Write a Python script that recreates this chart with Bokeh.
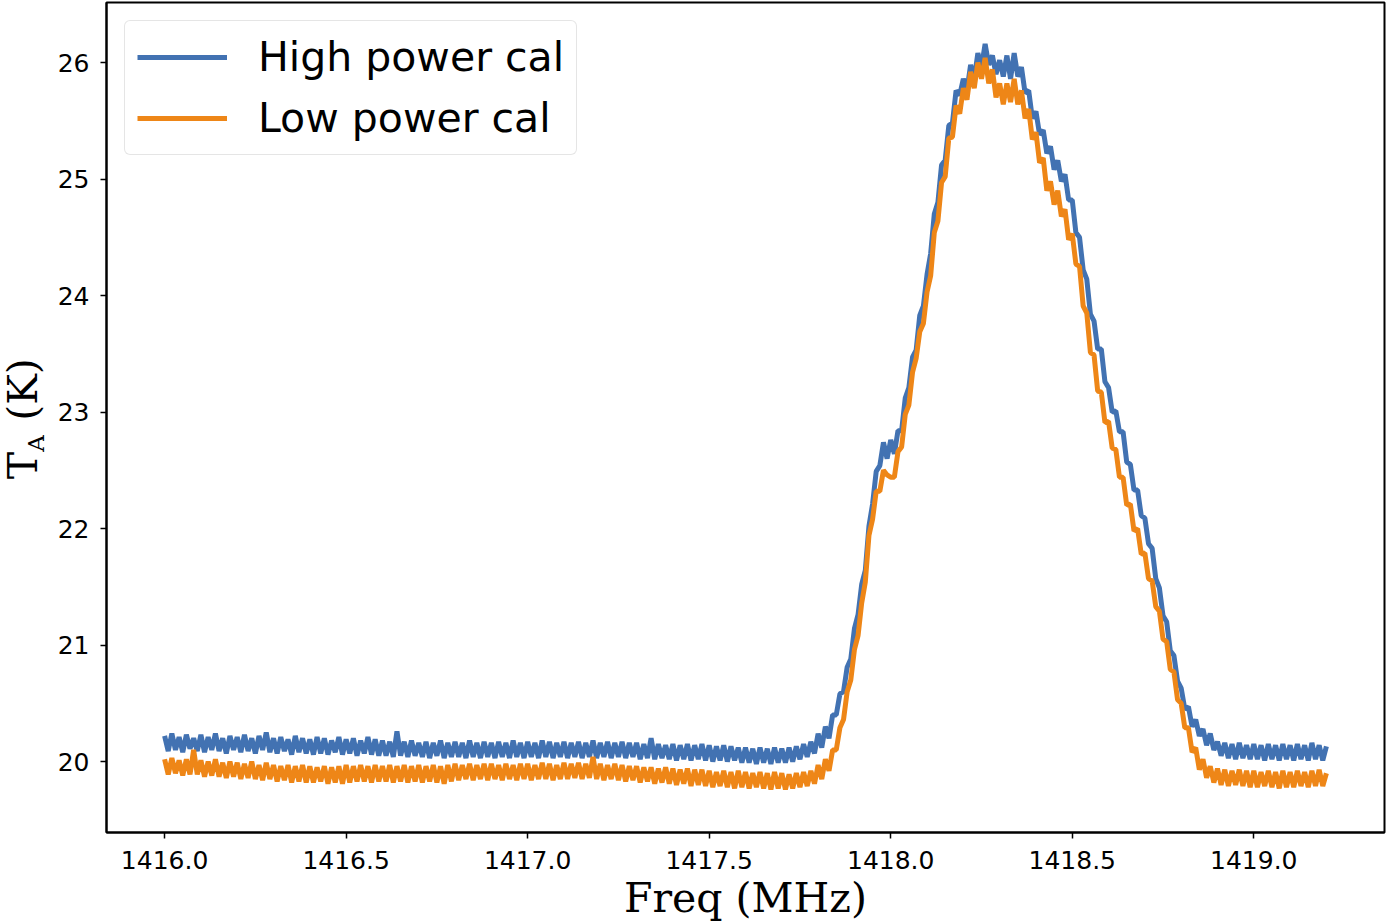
import numpy as np
from bokeh.plotting import figure
from bokeh.layouts import row
from bokeh.models import (FixedTicker, PrintfTickFormatter, Legend,
                          LegendItem, Range1d)
from bokeh.core.properties import value
from bokeh.embed import file_html
from bokeh.resources import INLINE

# ---------------- data ----------------
freq_start = 1416.0   # MHz, first channel
freq_step = 0.01      # MHz, channel spacing

high_power_cal = [
    20.22, 20.09, 20.24, 20.10, 20.21, 20.08, 20.23, 20.11, 20.20, 20.09,
    20.23, 20.08, 20.21, 20.10, 20.24, 20.09, 20.20, 20.07, 20.22, 20.10,
    20.21, 20.08, 20.23, 20.09, 20.20, 20.07, 20.22, 20.10, 20.25, 20.08,
    20.20, 20.07, 20.21, 20.09, 20.19, 20.06, 20.22, 20.08, 20.20, 20.07,
    20.19, 20.06, 20.21, 20.07, 20.20, 20.06, 20.18, 20.08, 20.21, 20.06,
    20.19, 20.07, 20.20, 20.05, 20.18, 20.07, 20.21, 20.06, 20.19, 20.05,
    20.18, 20.05, 20.17, 20.04, 20.26, 20.05, 20.17, 20.04, 20.18, 20.05,
    20.16, 20.04, 20.17, 20.03, 20.16, 20.05, 20.18, 20.03, 20.16, 20.04,
    20.17, 20.04, 20.16, 20.03, 20.18, 20.04, 20.16, 20.03, 20.17, 20.04,
    20.16, 20.03, 20.17, 20.04, 20.16, 20.03, 20.18, 20.04, 20.16, 20.03,
    20.17, 20.04, 20.16, 20.03, 20.18, 20.04, 20.17, 20.03, 20.16, 20.04,
    20.17, 20.03, 20.16, 20.04, 20.17, 20.03, 20.16, 20.04, 20.18, 20.03,
    20.16, 20.04, 20.17, 20.03, 20.16, 20.04, 20.17, 20.03, 20.16, 20.04,
    20.16, 20.02, 20.15, 20.03, 20.20, 20.02, 20.15, 20.03, 20.14, 20.02,
    20.15, 20.01, 20.14, 20.02, 20.15, 20.01, 20.14, 20.02, 20.15, 20.01,
    20.14, 20.00, 20.13, 20.01, 20.14, 20.00, 20.13, 20.01, 20.12, 19.99,
    20.12, 19.99, 20.11, 19.98, 20.12, 19.99, 20.11, 19.98, 20.12, 19.99,
    20.11, 19.99, 20.12, 20.00, 20.13, 20.02, 20.15, 20.04, 20.17, 20.07,
    20.24, 20.12, 20.30, 20.20, 20.40, 20.40, 20.58, 20.60, 20.81, 20.88,
    21.14, 21.26, 21.52, 21.64, 22.02, 22.21, 22.49, 22.54, 22.74, 22.60,
    22.76, 22.64, 22.84, 22.84, 23.12, 23.21, 23.47, 23.53, 23.83, 23.91,
    24.18, 24.36, 24.70, 24.80, 25.12, 25.16, 25.46, 25.48, 25.76, 25.72,
    25.86, 25.76, 25.98, 25.86, 26.08, 25.96, 26.16, 25.98, 26.06, 25.90,
    26.02, 25.88, 26.06, 25.86, 26.08, 25.88, 25.96, 25.74, 25.76, 25.52,
    25.58, 25.38, 25.42, 25.22, 25.28, 25.08, 25.16, 24.98, 25.04, 24.82,
    24.82, 24.54, 24.50, 24.22, 24.14, 23.84, 23.78, 23.54, 23.54, 23.26,
    23.21, 23.00, 23.01, 22.83, 22.83, 22.57, 22.55, 22.33, 22.33, 22.11,
    22.09, 21.87, 21.83, 21.57, 21.49, 21.25, 21.20, 20.95, 20.91, 20.69,
    20.63, 20.45, 20.47, 20.30, 20.36, 20.22, 20.28, 20.14, 20.24, 20.10,
    20.17, 20.05, 20.16, 20.03, 20.15, 20.02, 20.16, 20.03, 20.14, 20.02,
    20.15, 20.02, 20.14, 20.01, 20.15, 20.02, 20.14, 20.01, 20.15, 20.02,
    20.14, 20.01, 20.15, 20.02, 20.14, 20.01, 20.16, 20.02, 20.14, 20.01,
    20.13,
]

low_power_cal = [
    20.02, 19.89, 20.03, 19.90, 20.01, 19.88, 20.02, 19.89, 20.10, 19.89,
    20.01, 19.87, 20.00, 19.88, 20.02, 19.87, 19.99, 19.86, 20.00, 19.87,
    19.99, 19.85, 19.98, 19.86, 20.00, 19.85, 19.97, 19.84, 19.99, 19.85,
    19.97, 19.83, 19.96, 19.84, 19.97, 19.82, 19.96, 19.83, 19.97, 19.82,
    19.96, 19.82, 19.95, 19.83, 19.96, 19.81, 19.95, 19.82, 19.96, 19.81,
    19.97, 19.82, 19.96, 19.83, 19.97, 19.83, 19.96, 19.82, 19.97, 19.83,
    19.96, 19.83, 19.97, 19.82, 19.96, 19.83, 19.97, 19.82, 19.96, 19.83,
    19.97, 19.82, 19.96, 19.83, 19.97, 19.82, 19.96, 19.81, 19.97, 19.83,
    19.98, 19.84, 19.97, 19.85, 19.98, 19.84, 19.97, 19.85, 19.98, 19.84,
    19.98, 19.85, 19.97, 19.84, 19.98, 19.85, 19.97, 19.84, 19.98, 19.85,
    19.98, 19.84, 19.97, 19.85, 19.99, 19.85, 19.98, 19.84, 19.97, 19.85,
    19.99, 19.85, 19.98, 19.86, 19.99, 19.85, 19.98, 19.86, 20.04, 19.85,
    19.98, 19.84, 19.97, 19.85, 19.98, 19.84, 19.97, 19.83, 19.96, 19.84,
    19.96, 19.82, 19.95, 19.83, 19.95, 19.81, 19.94, 19.82, 19.95, 19.81,
    19.94, 19.80, 19.93, 19.81, 19.94, 19.79, 19.93, 19.80, 19.93, 19.79,
    19.92, 19.78, 19.91, 19.79, 19.92, 19.78, 19.91, 19.77, 19.92, 19.78,
    19.91, 19.77, 19.90, 19.78, 19.91, 19.77, 19.90, 19.76, 19.91, 19.77,
    19.90, 19.76, 19.89, 19.77, 19.90, 19.78, 19.91, 19.79, 19.92, 19.81,
    19.97, 19.85, 20.02, 19.92, 20.10, 20.10, 20.29, 20.36, 20.60, 20.70,
    20.96, 21.08, 21.36, 21.54, 21.94, 22.08, 22.32, 22.32, 22.50, 22.46,
    22.44, 22.44, 22.66, 22.70, 22.98, 23.06, 23.34, 23.46, 23.69, 23.76,
    24.03, 24.17, 24.54, 24.64, 24.97, 25.02, 25.35, 25.36, 25.63, 25.56,
    25.78, 25.68, 25.92, 25.78, 26.00, 25.86, 26.04, 25.82, 25.94, 25.70,
    25.82, 25.64, 25.82, 25.66, 25.86, 25.64, 25.76, 25.52, 25.60, 25.34,
    25.40, 25.14, 25.18, 24.90, 24.98, 24.78, 24.90, 24.68, 24.74, 24.48,
    24.53, 24.27, 24.25, 23.91, 23.85, 23.51, 23.49, 23.18, 23.17, 22.91,
    22.92, 22.69, 22.68, 22.44, 22.44, 22.20, 22.21, 21.98, 22.00, 21.78,
    21.79, 21.57, 21.55, 21.33, 21.29, 21.05, 21.03, 20.79, 20.77, 20.53,
    20.50, 20.29, 20.29, 20.08, 20.12, 19.93, 20.02, 19.86, 19.96, 19.82,
    19.94, 19.80, 19.93, 19.79, 19.92, 19.80, 19.93, 19.79, 19.92, 19.78,
    19.92, 19.78, 19.91, 19.79, 19.92, 19.78, 19.91, 19.77, 19.92, 19.78,
    19.91, 19.78, 19.92, 19.79, 19.91, 19.78, 19.92, 19.79, 19.93, 19.79,
    19.90,
]

freq = np.round(freq_start + freq_step * np.arange(len(high_power_cal)), 2)

series_labels = ["High power cal", "Low power cal"]
x_ticks = [1416.0, 1416.5, 1417.0, 1417.5, 1418.0, 1418.5, 1419.0]
y_ticks = [20, 21, 22, 23, 24, 25, 26]
x_label = "Freq (MHz)"
y_label_main, y_label_sub, y_label_unit = "T", "A", "(K)"

# ---------------- styling ----------------
BLUE = "#4272b2"
ORANGE = "#ee8617"
X0, X1 = 1415.84, 1419.36
Y0, Y1 = 19.391, 26.515
TOTAL_H = 924
LEFT_W = 50

# main plot
p = figure(width=1388 - LEFT_W, height=TOTAL_H, output_backend="svg",
           toolbar_location=None,
           x_range=Range1d(X0, X1), y_range=Range1d(Y0, Y1),
           min_border_left=56, min_border_right=4, min_border_top=2,
           min_border_bottom=92, background_fill_color="white",
           border_fill_color="white")

p.xgrid.visible = False
p.ygrid.visible = False
p.outline_line_color = "black"
p.outline_line_width = 2
p.outline_line_alpha = 1.0

r_hi = p.line(freq, high_power_cal, line_color=BLUE, line_width=5)
r_lo = p.line(freq, low_power_cal, line_color=ORANGE, line_width=5)

for ax in (p.xaxis[0], p.yaxis[0]):
    ax.axis_line_color = "black"
    ax.axis_line_width = 2
    ax.major_tick_line_color = "black"
    ax.major_tick_line_width = 1.5
    ax.major_tick_in = 0
    ax.major_tick_out = 6
    ax.minor_tick_line_color = None
    ax.major_label_text_font = "DejaVu Sans"
    ax.major_label_text_font_size = "25px"
    ax.major_label_text_color = "black"

p.xaxis[0].major_label_standoff = 12
p.yaxis[0].major_label_standoff = 11
p.xaxis[0].ticker = FixedTicker(ticks=x_ticks)
p.xaxis[0].formatter = PrintfTickFormatter(format="%.1f")
p.yaxis[0].ticker = FixedTicker(ticks=y_ticks)
p.xaxis[0].axis_label = x_label
p.xaxis[0].axis_label_text_font = "DejaVu Serif"
p.xaxis[0].axis_label_text_font_size = "41px"
p.xaxis[0].axis_label_text_font_style = "normal"
p.xaxis[0].axis_label_text_color = "black"
p.xaxis[0].axis_label_standoff = 2

legend = Legend(items=[LegendItem(label=series_labels[0], renderers=[r_hi]),
                       LegendItem(label=series_labels[1], renderers=[r_lo])],
                location="top_left", margin=18, padding=12, spacing=13,
                glyph_width=90, glyph_height=40, label_height=40,
                label_standoff=31, label_text_font="DejaVu Sans",
                label_text_font_size="41px", label_text_color="black",
                border_line_color="#cccccc", border_line_width=1.5,
                background_fill_color="white", background_fill_alpha=0.8)
try:
    legend.border_radius = 6
except Exception:
    pass
p.add_layout(legend)

# left strip carrying the y-axis title "T_A (K)" (subscript A);
# its frame is aligned with the main frame by the row layout, so it
# shares the main plot's vertical range.
ylab = figure(width=LEFT_W, height=TOTAL_H, output_backend="svg",
              toolbar_location=None, x_range=Range1d(0, LEFT_W),
              y_range=Range1d(Y0, Y1), min_border=0,
              x_axis_location=None, y_axis_location=None,
              outline_line_color=None, background_fill_color="white",
              border_fill_color="white")
ylab.xgrid.visible = False
ylab.ygrid.visible = False


def sy2y(sy):
    return 20 + (761 - sy) / 116.5


txt_kw = dict(angle=np.pi / 2, text_align="center", text_baseline="middle",
              text_font=value("DejaVu Serif"), text_color="black")
ylab.text(x=[22], y=[sy2y(465)], text=[y_label_main],
          text_font_size="41px", **txt_kw)
ylab.text(x=[35], y=[sy2y(443)], text=[y_label_sub],
          text_font_size="23px", **txt_kw)
ylab.text(x=[22], y=[sy2y(389)], text=[y_label_unit],
          text_font_size="41px", **txt_kw)

layout = row(ylab, p, spacing=0)
open("out.html", "w").write(file_html(layout, INLINE))
